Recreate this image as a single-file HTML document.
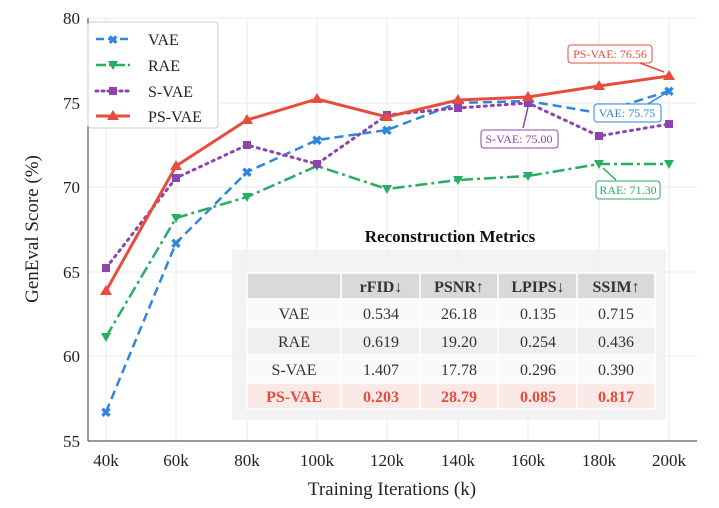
<!DOCTYPE html><html><head><style>body{margin:0;background:#fff}svg{display:block;font-family:"Liberation Serif",serif}</style></head><body>
<svg width="719" height="508" viewBox="0 0 719 508">
<g stroke="#ebebeb" stroke-width="1">
<line x1="106" y1="18" x2="106" y2="441"/><line x1="176" y1="18" x2="176" y2="441"/><line x1="247" y1="18" x2="247" y2="441"/><line x1="317" y1="18" x2="317" y2="441"/><line x1="387" y1="18" x2="387" y2="441"/><line x1="458" y1="18" x2="458" y2="441"/><line x1="528" y1="18" x2="528" y2="441"/><line x1="599" y1="18" x2="599" y2="441"/><line x1="669" y1="18" x2="669" y2="441"/>
<line x1="88" y1="18" x2="697" y2="18"/><line x1="88" y1="103" x2="697" y2="103"/><line x1="88" y1="187" x2="697" y2="187"/><line x1="88" y1="272" x2="697" y2="272"/><line x1="88" y1="356" x2="697" y2="356"/>
</g>
<line x1="88" y1="18" x2="88" y2="441" stroke="#333" stroke-width="1"/>
<line x1="88" y1="441" x2="697" y2="441" stroke="#333" stroke-width="1"/>
<g font-size="17" fill="#222" text-anchor="end">
<text x="80" y="24">80</text><text x="80" y="109">75</text><text x="80" y="193">70</text><text x="80" y="278">65</text><text x="80" y="362">60</text><text x="80" y="447">55</text></g>
<g font-size="17" fill="#222" text-anchor="middle">
<text x="106" y="466">40k</text><text x="176" y="466">60k</text><text x="247" y="466">80k</text><text x="317" y="466">100k</text><text x="387" y="466">120k</text><text x="458" y="466">140k</text><text x="528" y="466">160k</text><text x="599" y="466">180k</text><text x="669" y="466">200k</text>
<text x="392" y="495" font-size="19">Training Iterations (k)</text>
<text transform="translate(38,229) rotate(-90)" font-size="19">GenEval Score (%)</text></g>
<!-- series -->
<polyline fill="none" stroke="#2e86de" stroke-width="2.5" stroke-dasharray="9,5" points="106,412 176,243 247,172 317,140 387,130 458,103 528,101 599,113 669,91"/>
<polyline fill="none" stroke="#27ae60" stroke-width="2.5" stroke-dasharray="12,4,3,4" points="106,337 176,218 247,197 317,166 387,189 458,180 528,176 599,164 669,164"/>
<polyline fill="none" stroke="#8e44ad" stroke-width="3" stroke-dasharray="2,5" stroke-linecap="round" points="106,268 176,178 247,145 317,164 387,115 458,108 528,103 599,136 669,124"/>
<polyline fill="none" stroke="#e74c3c" stroke-width="3" points="106,291 176,166 247,120 317,99 387,117 458,100 528,97 599,86 669,76"/>
<g fill="#2e86de" font-size="13" text-anchor="middle" font-weight="bold"><text x="106" y="417">✖</text><text x="176" y="248">✖</text><text x="247" y="177">✖</text><text x="317" y="145">✖</text><text x="387" y="135">✖</text><text x="458" y="108">✖</text><text x="528" y="106">✖</text><text x="599" y="118">✖</text><text x="669" y="96">✖</text></g>
<g fill="#27ae60"><path d="M101,333h10l-5,9z"/><path d="M171,214h10l-5,9z"/><path d="M242,193h10l-5,9z"/><path d="M312,162h10l-5,9z"/><path d="M382,185h10l-5,9z"/><path d="M453,176h10l-5,9z"/><path d="M523,172h10l-5,9z"/><path d="M594,160h10l-5,9z"/><path d="M664,160h10l-5,9z"/></g>
<g fill="#8e44ad"><rect x="102" y="264" width="8" height="8"/><rect x="172" y="174" width="8" height="8"/><rect x="243" y="141" width="8" height="8"/><rect x="313" y="160" width="8" height="8"/><rect x="383" y="111" width="8" height="8"/><rect x="454" y="104" width="8" height="8"/><rect x="524" y="99" width="8" height="8"/><rect x="595" y="132" width="8" height="8"/><rect x="665" y="120" width="8" height="8"/></g>
<g fill="#e74c3c"><path d="M106,285l6,10h-12z"/><path d="M176,160l6,10h-12z"/><path d="M247,114l6,10h-12z"/><path d="M317,93l6,10h-12z"/><path d="M387,111l6,10h-12z"/><path d="M458,94l6,10h-12z"/><path d="M528,91l6,10h-12z"/><path d="M599,80l6,10h-12z"/><path d="M669,70l6,10h-12z"/></g>
<!-- annotations -->
<g font-size="12">
<rect x="568" y="45" width="84" height="18" rx="3" fill="#fff" stroke="#e74c3c"/><text x="610" y="58" fill="#e74c3c" text-anchor="middle">PS-VAE: 76.56</text>
<line x1="640" y1="63" x2="664" y2="72" stroke="#e74c3c" stroke-width="1.5"/>
<rect x="594" y="104" width="67" height="18" rx="3" fill="#fff" stroke="#2e86de"/><text x="627" y="117" fill="#2e86de" text-anchor="middle">VAE: 75.75</text>
<line x1="648" y1="104" x2="666" y2="93" stroke="#2e86de" stroke-width="1.5"/>
<rect x="481" y="130" width="77" height="18" rx="3" fill="#fff" stroke="#8e44ad"/><text x="519" y="143" fill="#8e44ad" text-anchor="middle">S-VAE: 75.00</text>
<line x1="523" y1="128" x2="528" y2="107" stroke="#8e44ad" stroke-width="1.5"/>
<rect x="596" y="181" width="64" height="18" rx="3" fill="#fff" stroke="#27ae60"/><text x="628" y="194" fill="#27ae60" text-anchor="middle">RAE: 71.30</text>
<line x1="616" y1="180" x2="603" y2="168" stroke="#27ae60" stroke-width="1.5"/>
</g>
<!-- legend -->
<rect x="88" y="22" width="130" height="106" rx="3" fill="#fff" stroke="#ccc"/>
<g font-size="16" fill="#222">
<line x1="96" y1="39" x2="130" y2="39" stroke="#2e86de" stroke-width="2.5" stroke-dasharray="8,4"/><text x="113" y="44" fill="#2e86de" font-size="12" text-anchor="middle" font-weight="bold">✖</text><text x="148" y="45">VAE</text>
<line x1="96" y1="65" x2="130" y2="65" stroke="#27ae60" stroke-width="2.5" stroke-dasharray="10,3,3,3"/><path d="M108,61h10l-5,9z" fill="#27ae60"/><text x="148" y="71">RAE</text>
<line x1="96" y1="91" x2="130" y2="91" stroke="#8e44ad" stroke-width="3" stroke-dasharray="2,4" stroke-linecap="round"/><rect x="109" y="87" width="8" height="8" fill="#8e44ad"/><text x="148" y="97">S-VAE</text>
<line x1="96" y1="116" x2="130" y2="116" stroke="#e74c3c" stroke-width="3"/><path d="M113,110l6,10h-12z" fill="#e74c3c"/><text x="148" y="122">PS-VAE</text>
</g>
<!-- table -->
<text x="450" y="242" font-size="17" font-weight="bold" text-anchor="middle" fill="#111">Reconstruction Metrics</text>
<rect x="232" y="250" width="434" height="170" fill="#f2f2f2" opacity="0.95"/>
<g stroke="#fff" stroke-width="1.5">
<rect x="247" y="273" width="408" height="26" fill="#d9d9d9"/>
<rect x="247" y="299" width="408" height="28" fill="#fafafa"/>
<rect x="247" y="327" width="408" height="28" fill="#efefef"/>
<rect x="247" y="355" width="408" height="28" fill="#fafafa"/>
<rect x="247" y="383" width="408" height="26" fill="#fbe9e7"/>
<line x1="341" y1="273" x2="341" y2="409"/><line x1="420" y1="273" x2="420" y2="409"/><line x1="498" y1="273" x2="498" y2="409"/><line x1="577" y1="273" x2="577" y2="409"/>
</g>
<g font-size="16" text-anchor="middle" fill="#333">
<g font-weight="bold"><text x="381" y="292">rFID↓</text><text x="459" y="292">PSNR↑</text><text x="538" y="292">LPIPS↓</text><text x="616" y="292">SSIM↑</text></g>
<text x="294" y="319">VAE</text><text x="381" y="319">0.534</text><text x="459" y="319">26.18</text><text x="538" y="319">0.135</text><text x="616" y="319">0.715</text>
<text x="294" y="347">RAE</text><text x="381" y="347">0.619</text><text x="459" y="347">19.20</text><text x="538" y="347">0.254</text><text x="616" y="347">0.436</text>
<text x="294" y="375">S-VAE</text><text x="381" y="375">1.407</text><text x="459" y="375">17.78</text><text x="538" y="375">0.296</text><text x="616" y="375">0.390</text>
<g fill="#e74c3c" font-weight="bold"><text x="294" y="402">PS-VAE</text><text x="381" y="402">0.203</text><text x="459" y="402">28.79</text><text x="538" y="402">0.085</text><text x="616" y="402">0.817</text></g>
</g>
</svg></body></html>
